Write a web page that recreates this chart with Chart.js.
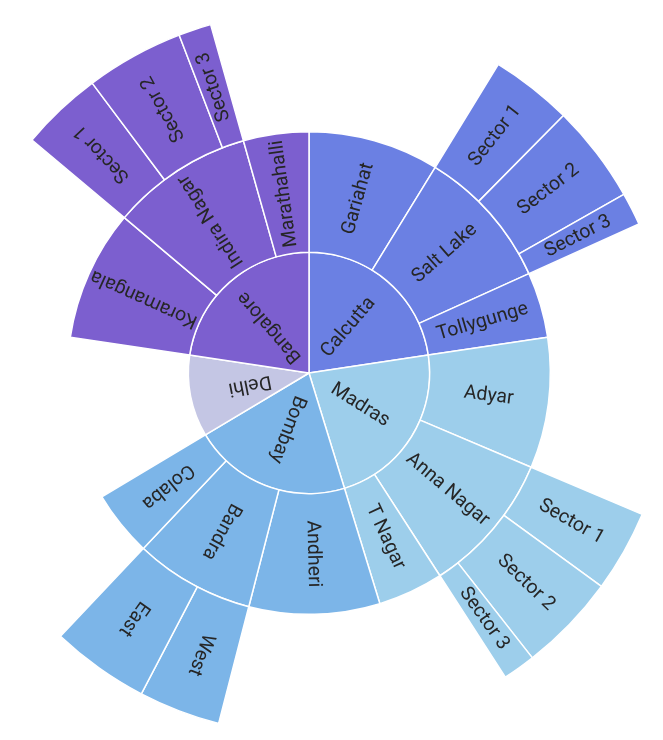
<!DOCTYPE html>
<html>
<head>
<meta charset="utf-8">
<script src="https://cdn.jsdelivr.net/npm/chart.js@4"></script>
<style>
  html, body { margin: 0; padding: 0; background: #fff; overflow: hidden; width: 663px; height: 740px; }
  #wrap { position: absolute; left: -56px; top: 8px; width: 730px; height: 730px; }
</style>
</head>
<body>
<div id="wrap"><canvas id="sunburst" width="730" height="730"></canvas></div>
<script>
// level 1 - cities
var cities = ['Calcutta', 'Madras', 'Bombay', 'Delhi', 'Bangalore'];
var cityValues = [31, 31, 29, 15, 31];

// level 2 - areas ('' = no child, slot left empty)
var areas = ['Gariahat', 'Salt Lake', 'Tollygunge', 'Adyar', 'Anna Nagar', 'T Nagar',
             'Andheri', 'Bandra', 'Colaba', '', 'Koramangala', 'Indira Nagar', 'Marathahalli'];
var areaValues = [12, 13, 6, 12, 13, 6, 12, 11, 6, 15, 12, 13, 6];
var areaCity = [0, 0, 0, 1, 1, 1, 2, 2, 2, 3, 4, 4, 4];

// level 3 - sectors
var sectors = ['', 'Sector 1', 'Sector 2', 'Sector 3', '',
               '', 'Sector 1', 'Sector 2', 'Sector 3', '',
               '', 'West', 'East', '',
               '',
               '', 'Sector 1', 'Sector 2', 'Sector 3', ''];
var sectorValues = [12, 5, 6, 2, 6, 12, 5, 6, 2, 6, 12, 5, 6, 6, 15, 12, 5, 6, 2, 6];
var sectorCity = [0, 0, 0, 0, 0, 1, 1, 1, 1, 1, 2, 2, 2, 2, 3, 4, 4, 4, 4, 4];

var cityColors = ['#6b80e3', '#9dceeb', '#7cb5e8', '#c4c6e4', '#7c5fcf'];

function fills(names, groups) {
  return names.map(function (n, i) { return n ? cityColors[groups[i]] : 'rgba(0,0,0,0)'; });
}
function borders(names) {
  return names.map(function (n) { return n ? 1.5 : 0; });
}

// draws the rotated text in the middle of every segment
var labelPlugin = {
  id: 'sunLabels',
  afterDatasetsDraw: function (chart) {
    var ctx = chart.ctx;
    ctx.save();
    ctx.fillStyle = '#262626';
    ctx.font = '19.5px Roboto';
    ctx.textAlign = 'center';
    ctx.textBaseline = 'middle';
    chart.data.datasets.forEach(function (ds, d) {
      var meta = chart.getDatasetMeta(d);
      meta.data.forEach(function (arc, i) {
        var name = ds.names[i];
        if (!name) return;
        var p = arc.getProps(['x', 'y', 'startAngle', 'endAngle', 'innerRadius', 'outerRadius'], true);
        var a = (p.startAngle + p.endAngle) / 2;
        var r = (p.innerRadius + p.outerRadius) / 2;
        ctx.save();
        ctx.translate(p.x + Math.cos(a) * r, p.y + Math.sin(a) * r);
        ctx.rotate(a);
        ctx.fillText(name, 0, 0);
        ctx.restore();
      });
    });
    ctx.restore();
  }
};

var ctx = document.getElementById('sunburst').getContext('2d');
var chart = new Chart(ctx, {
  type: 'doughnut',
  data: {
    datasets: [
      { names: sectors, data: sectorValues, backgroundColor: fills(sectors, sectorCity), borderColor: '#fff', borderWidth: borders(sectors) },
      { names: areas, data: areaValues, backgroundColor: fills(areas, areaCity), borderColor: '#fff', borderWidth: borders(areas) },
      { names: cities, data: cityValues, backgroundColor: cityColors, borderColor: '#fff', borderWidth: 1.5 }
    ]
  },
  options: {
    responsive: false,
    animation: false,
    events: [],
    cutout: 0,
    radius: 362,
    plugins: { legend: { display: false }, tooltip: { enabled: false } }
  },
  plugins: [labelPlugin]
});
</script>
</body>
</html>
